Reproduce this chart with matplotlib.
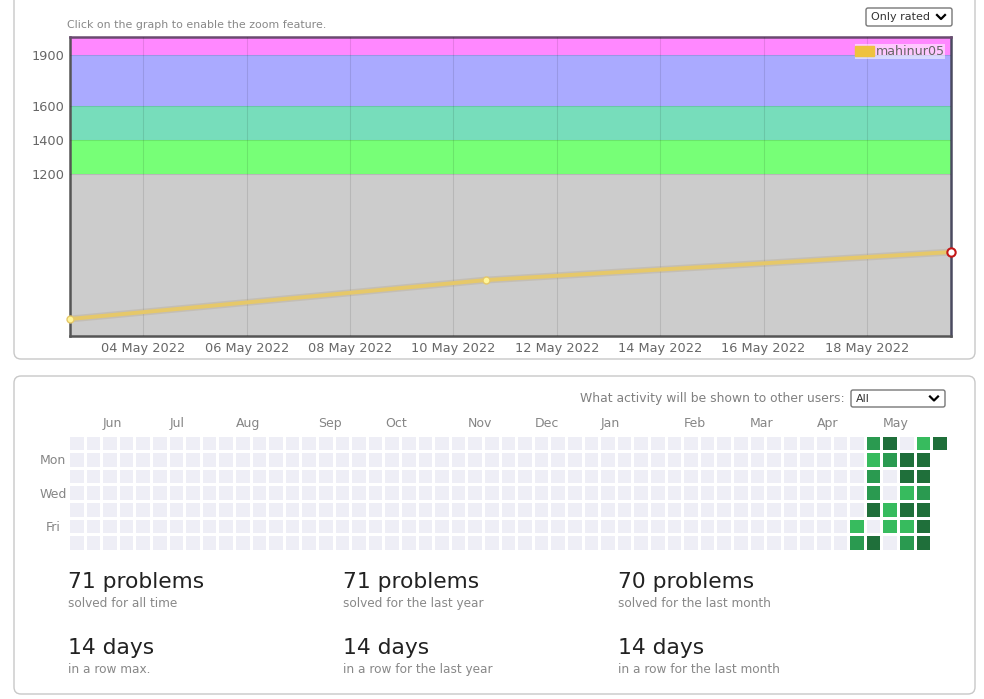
import datetime as dt
import numpy as np
import matplotlib
matplotlib.use("Agg")
import matplotlib.pyplot as plt
import matplotlib.dates as mdates
from matplotlib.colors import ListedColormap
from matplotlib.patches import FancyBboxPatch, Patch

W, H = 984, 699

# rating graph
rating_dates = [dt.datetime(2022, 5, 2, 14), dt.datetime(2022, 5, 10, 15), dt.datetime(2022, 5, 19, 15)]
rating_values = [347, 576, 741]
band_edges = [0, 1200, 1400, 1600, 1900, 3000]
band_colors = ["#cccccc", "#77ff77", "#77ddbb", "#aaaaff", "#ff88ff"]
rating_ticks = [1200, 1400, 1600, 1900]
user_name = "mahinur05"

# activity heatmap
n_weeks = 53
months = ["Jun", "Jul", "Aug", "Sep", "Oct", "Nov", "Dec", "Jan", "Feb", "Mar", "Apr", "May"]
month_weeks = [2, 6, 10, 15, 19, 24, 28, 32, 37, 41, 45, 49]
day_names = ["Mon", "Wed", "Fri"]
day_rows = [1, 3, 5]
# last six weeks, top row is Sunday, level 0 = no activity, -1 = not reached yet
last_weeks = [
    [0, 0, 0, 0, 0, 1, 2],
    [2, 1, 2, 2, 3, 0, 3],
    [3, 2, 0, 0, 1, 1, 0],
    [0, 3, 3, 1, 3, 1, 2],
    [1, 3, 3, 2, 3, 3, 3],
    [3, -1, -1, -1, -1, -1, -1],
]
level_colors = ["#eeeef6", "#37bb5e", "#2a9a50", "#1f6f3a"]

# stats under the heatmap
stats_big = [["71 problems", "71 problems", "70 problems"], ["14 days", "14 days", "14 days"]]
stats_small = [["solved for all time", "solved for the last year", "solved for the last month"],
               ["in a row max.", "in a row for the last year", "in a row for the last month"]]
stats_x = [68, 343, 618]
stats_y = [582, 648]


def px_axes(fig, left, top, right, bottom, **kw):
    return fig.add_axes([left / W, 1 - bottom / H, (right - left) / W, (bottom - top) / H], **kw)


fig = plt.figure(figsize=(W / 100, H / 100), dpi=100, facecolor="white")
plt.rcParams["font.family"] = ["DejaVu Sans"]

# page layer in pixel coordinates
bg = px_axes(fig, 0, 0, W, H)
bg.set_xlim(0, W)
bg.set_ylim(H, 0)
bg.axis("off")

for top, bottom in [(-12, 359), (376, 694)]:
    bg.add_patch(FancyBboxPatch((14, top), 961, bottom - top, boxstyle="round,pad=0,rounding_size=7",
                                fc="white", ec="#c8c8c8", lw=1))

bg.text(67, 25.5, "Click on the graph to enable the zoom feature.", fontsize=7.9, color="#888888", va="center")
bg.text(845, 398.5, "What activity will be shown to other users:", fontsize=8.9, color="#808080", va="center", ha="right")


def select_box(left, top, right, bottom, label):
    bg.add_patch(FancyBboxPatch((left, top), right - left, bottom - top, boxstyle="round,pad=0,rounding_size=2",
                                fc="white", ec="#777777", lw=1))
    bg.text(left + 5, (top + bottom) / 2, label, fontsize=8, color="#333333", va="center")
    cx, cy = right - 11, (top + bottom) / 2
    bg.plot([cx - 4, cx, cx + 4], [cy - 2, cy + 2, cy - 2], color="black", lw=1.6)


select_box(866, 8, 952, 26, "Only rated")
select_box(851, 390, 945, 407, "All")

# rating graph
ax = px_axes(fig, 70, 37, 951, 336)
for i, c in enumerate(band_colors):
    ax.axhspan(band_edges[i], band_edges[i + 1], color=c, lw=0, zorder=0)
ax.plot(rating_dates, rating_values, color="#a89060", lw=5, alpha=0.22, zorder=3)
line, = ax.plot(rating_dates, rating_values, color="#e6c869", lw=2.8, zorder=4, clip_on=False)
ax.plot(rating_dates[:2], rating_values[:2], "o", ms=5, mfc="#fff59a", mec="#e6c869", mew=1, zorder=5, clip_on=False)
ax.plot(rating_dates[-1:], rating_values[-1:], "o", ms=6, mfc="white", mec="#c41818", mew=1.5, zorder=5, clip_on=False)

ax.set_xlim(dt.datetime(2022, 5, 2, 14), dt.datetime(2022, 5, 19, 15))
ax.set_ylim(247, 2006)
ax.xaxis.set_major_locator(mdates.DayLocator(bymonthday=range(4, 20, 2)))
ax.xaxis.set_major_formatter(mdates.DateFormatter("%d %b %Y"))
ax.set_yticks(rating_ticks)
ax.tick_params(axis="both", length=0, labelsize=9.3, labelcolor="#666666")
ax.tick_params(axis="x", pad=4.5)
ax.tick_params(axis="y", pad=4)
ax.grid(True, color="#000000", alpha=0.1, lw=0.8, zorder=1)
ax.set_axisbelow(False)
for spine in ax.spines.values():
    spine.set_linewidth(1.8)
    spine.set_color("#555555")
ax.spines["top"].set_color("#6a4a70")
ax.spines["right"].set_color("#4a4a60")

leg = ax.legend([Patch(color="#eec23f")], [user_name], loc="upper right", fontsize=9.1, frameon=True,
                framealpha=0.55, facecolor="white", edgecolor="none", fancybox=False, borderpad=0.05,
                handlelength=1.45, handleheight=0.85, handletextpad=0.15, labelcolor="#666666",
                bbox_to_anchor=(0.9935, 0.975), borderaxespad=0)
leg.set_zorder(6)

# activity heatmap
levels = np.zeros((7, n_weeks))
levels[:, n_weeks - len(last_weeks):] = np.array(last_weeks).T
levels = np.ma.masked_less(levels, 0)

hm = px_axes(fig, 67.9, 434.5, 67.9 + 16.6 * n_weeks, 434.5 + 16.6 * 7)
hm.pcolormesh(np.arange(n_weeks + 1), np.arange(8), levels, cmap=ListedColormap(level_colors),
              vmin=0, vmax=3, edgecolors="white", linewidth=1.8)
hm.set_ylim(7, 0)
hm.set_xticks(np.array(month_weeks) + 0.1, months, ha="left")
hm.xaxis.tick_top()
hm.set_yticks(np.array(day_rows) + 0.5, day_names, ha="center")
hm.tick_params(axis="both", length=0, labelsize=9, labelcolor="#858585")
hm.tick_params(axis="x", pad=3.3)
hm.tick_params(axis="y", pad=10.5)
hm.patch.set_visible(False)
for spine in hm.spines.values():
    spine.set_visible(False)

# stats
for r, y in enumerate(stats_y):
    for c, x in enumerate(stats_x):
        bg.text(x, y, stats_big[r][c], fontsize=15.7, color="#222222", va="center")
        bg.text(x, y + 21.5, stats_small[r][c], fontsize=8.7, color="#888888", va="center")

fig.savefig("out.png", dpi=100)
